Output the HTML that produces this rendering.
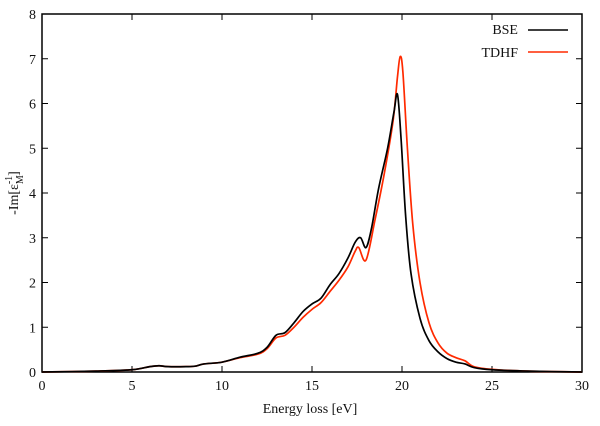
<!DOCTYPE html>
<html><head><meta charset="utf-8"><style>
body{margin:0;background:#fff}
svg text{font-family:"Liberation Serif",serif;font-size:14px;fill:#111}
</style></head><body>
<svg id="s" width="600" height="421" viewBox="0 0 600 421" xmlns="http://www.w3.org/2000/svg">
<rect x="42" y="14" width="540" height="358" fill="none" stroke="#000" stroke-width="1.5"/>
<g id="ticks" stroke="#000" stroke-width="1"></g>
<g id="labels"></g>
<text x="310" y="413" text-anchor="middle">Energy loss [eV]</text>
<text transform="translate(18,193) rotate(-90)" text-anchor="middle">-Im[ε<tspan font-size="10" dy="5">M</tspan><tspan font-size="10" dy="-11" dx="-9">-1</tspan><tspan dy="6">]</tspan></text>
<text x="518" y="34" text-anchor="end">BSE</text>
<line x1="528" y1="30" x2="568" y2="30" stroke="#000" stroke-width="1.5"/>
<text x="518" y="57" text-anchor="end">TDHF</text>
<line x1="528" y1="52" x2="568" y2="52" stroke="#ff2a00" stroke-width="1.5"/>
<path id="tdhf" fill="none" stroke="#ff2a00" stroke-width="1.7"/>
<path id="bse" fill="none" stroke="#000" stroke-width="1.7"/>
</svg>
<script>
var X=e=>42+18*e,Y=v=>372-44.75*v;
var t=document.getElementById('ticks'),l=document.getElementById('labels'),ns='http://www.w3.org/2000/svg';
function add(p,tag,a,txt){var e=document.createElementNS(ns,tag);for(var k in a)e.setAttribute(k,a[k]);if(txt!=null)e.textContent=txt;p.appendChild(e);}
for(var i=0;i<=30;i+=5){add(t,'line',{x1:X(i),x2:X(i),y1:372,y2:366});add(t,'line',{x1:X(i),x2:X(i),y1:14,y2:20});add(l,'text',{x:X(i),y:390,'text-anchor':'middle'},i);}
for(var j=0;j<=8;j++){add(t,'line',{x1:42,x2:48,y1:Y(j),y2:Y(j)});add(t,'line',{x1:582,x2:576,y1:Y(j),y2:Y(j)});add(l,'text',{x:36,y:Y(j)+5,'text-anchor':'end'},j);}
var bse=[[0,0],[3,0.02],[5,0.05],[6,0.12],[6.5,0.14],[7,0.12],[8,0.12],[8.5,0.13],[9,0.18],[10,0.22],[11,0.33],[12,0.42],[12.5,0.55],[13,0.82],[13.5,0.88],[14,1.1],[14.5,1.35],[15,1.52],[15.5,1.65],[16,1.95],[16.5,2.2],[17,2.55],[17.4,2.9],[17.7,3.0],[18,2.78],[18.3,3.2],[18.7,4.1],[19.2,5.0],[19.55,5.8],[19.75,6.2],[19.95,5.2],[20.2,3.5],[20.5,2.2],[21,1.2],[21.5,0.7],[22,0.45],[22.5,0.3],[23,0.22],[23.5,0.18],[24,0.1],[25,0.05],[27,0.02],[30,0]];
var td=[[0,0],[3,0.02],[5,0.05],[6,0.12],[6.5,0.14],[7,0.12],[8,0.12],[8.5,0.13],[9,0.18],[10,0.22],[11,0.32],[12,0.4],[12.5,0.52],[13,0.76],[13.5,0.82],[14,1.0],[14.5,1.22],[15,1.4],[15.5,1.55],[16,1.8],[16.5,2.05],[17,2.35],[17.4,2.7],[17.6,2.78],[18,2.5],[18.5,3.4],[19,4.4],[19.5,5.6],[19.75,6.6],[19.9,7.05],[20.05,6.7],[20.3,5.0],[20.6,3.3],[21,2.0],[21.5,1.1],[22,0.65],[22.5,0.42],[23,0.32],[23.5,0.25],[24,0.12],[25,0.06],[27,0.02],[30,0]];
function path(d){var p=d.map(a=>[X(a[0]),Y(a[1])]);var s='M'+p[0][0]+','+p[0][1];
for(var i=0;i<p.length-1;i++){var p0=p[i-1]||p[i],p1=p[i],p2=p[i+1],p3=p[i+2]||p2;
var c1=[p1[0]+(p2[0]-p0[0])/6,p1[1]+(p2[1]-p0[1])/6],c2=[p2[0]-(p3[0]-p1[0])/6,p2[1]-(p3[1]-p1[1])/6];
s+=' C'+c1+' '+c2+' '+p2;}return s;}
document.getElementById('bse').setAttribute('d',path(bse));
document.getElementById('tdhf').setAttribute('d',path(td));
</script>
</body></html>
